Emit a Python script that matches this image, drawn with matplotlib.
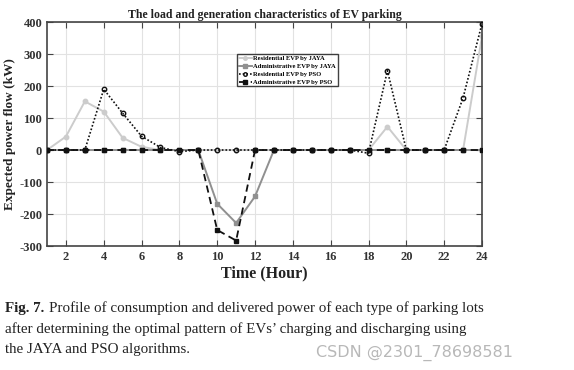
import matplotlib
matplotlib.use("Agg")
import matplotlib.pyplot as plt

plt.rcParams["axes.unicode_minus"] = False

hours = list(range(1, 25))
res_jaya = [0, 42, 152, 120, 38, 10, 0, 0, 0, 0, 0, 0, 0, 0, 0, 0, 0, 0, 73, 0, 0, 0, 0, 355]
adm_jaya = [0, 0, 0, 0, 0, 0, 0, 0, 0, -168, -228, -145, 0, 0, 0, 0, 0, 0, 0, 0, 0, 0, 0, 0]
res_pso = [0, 0, 0, 190, 115, 43, 8, -5, 0, 0, 0, 0, 0, 0, 0, 0, 0, -10, 248, 0, 0, 0, 163, 395]
adm_pso = [0, 0, 0, 0, 0, 0, 0, 0, 0, -250, -283, 0, 0, 0, 0, 0, 0, 0, 0, 0, 0, 0, 0, 0]
labels = ["Residential EVP by JAYA", "Administrative EVP by JAYA",
          "Residential EVP by PSO", "Administrative EVP by PSO"]

serif = ["Liberation Serif", "DejaVu Serif"]
fig = plt.figure(figsize=(5.74, 3.70), dpi=100)
ax = fig.add_axes([0.0819, 0.3351, 0.7578, 0.6054])

ax.plot(hours, res_jaya, color="#cccccc", lw=1.4, marker="o", ms=3.2, label=labels[0], zorder=2)
ax.plot(hours, adm_jaya, color="#909090", lw=1.4, marker="s", ms=3.0, label=labels[1], zorder=3)
ax.plot(hours, res_pso, color="#111111", lw=1.2, ls=(0, (1, 1.2)), marker="o", ms=3.2,
        mfc="none", mew=1.0, label=labels[2], zorder=4)
ax.plot(hours, adm_pso, color="#111111", lw=1.3, ls=(0, (4, 2.5)), marker="s", ms=3.0,
        label=labels[3], zorder=4)

ax.set_xlim(1, 24)
ax.set_ylim(-300, 400)
ax.set_xticks(range(2, 25, 2))
ax.set_yticks(range(-300, 401, 100))
ax.grid(True, color="#e2e2e2", lw=0.8)
ax.set_axisbelow(True)
ax.tick_params(direction="in", top=True, right=True, length=4, width=0.8, colors="#444444",
               labelcolor="#333333")
for lab in ax.get_xticklabels() + ax.get_yticklabels():
    lab.set_fontfamily(serif)
    lab.set_fontweight("bold")
    lab.set_fontsize(9)
for s in ax.spines.values():
    s.set_color("#444444")
    s.set_linewidth(1.2)

ax.set_title("The load and generation characteristics of EV parking", fontfamily=serif,
             fontweight="bold", fontsize=8.5, pad=3, color="#222222")
ax.set_xlabel("Time (Hour)", fontfamily=serif, fontweight="bold", fontsize=11.5,
              labelpad=2, color="#222222")
ax.set_ylabel("Expected power flow (kW)", fontfamily=serif, fontweight="bold", fontsize=9.5,
              labelpad=2, color="#222222")

leg = ax.legend(loc="upper left", bbox_to_anchor=(0.437, 0.857), prop={"family": serif,
                "weight": "bold", "size": 4.7}, frameon=True, fancybox=False,
                handlelength=2.0, handletextpad=0.25, borderpad=0.25, labelspacing=0.35,
                borderaxespad=0, markerscale=0.8)
leg.get_frame().set_edgecolor("#111111")
leg.get_frame().set_linewidth(1.0)

cap = 10.85
fig.text(0.008, 0.158, "Fig. 7.", fontfamily=serif, fontweight="bold", fontsize=cap,
         color="#222222", va="baseline")
fig.text(0.085, 0.158, "Profile of consumption and delivered power of each type of parking lots",
         fontfamily=serif, fontsize=cap, color="#222222", va="baseline")
fig.text(0.008, 0.100, "after determining the optimal pattern of EVs\u2019 charging and discharging using",
         fontfamily=serif, fontsize=cap, color="#222222", va="baseline")
fig.text(0.008, 0.046, "the JAYA and PSO algorithms.", fontfamily=serif, fontsize=cap,
         color="#222222", va="baseline")
fig.text(0.551, 0.035, "CSDN @2301_78698581", fontfamily="DejaVu Sans", fontsize=11.5,
         color="#b8b8b8", va="baseline")

fig.savefig("out.png", dpi=100)
